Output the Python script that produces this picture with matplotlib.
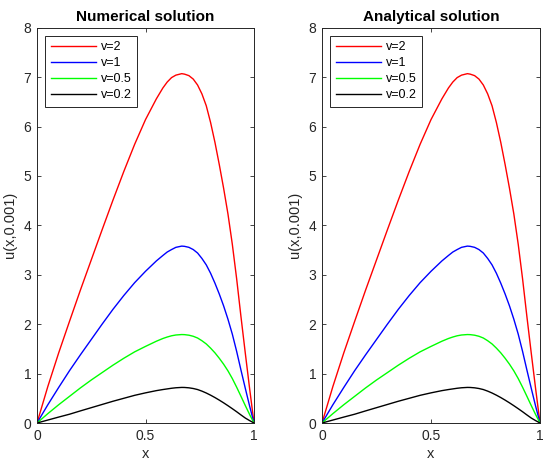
import numpy as np
import matplotlib.pyplot as plt

plt.rcParams['font.family'] = ['Liberation Sans', 'DejaVu Sans']

# valores, u(x, 0.001) para cada v
x = [0, 0.05, 0.1, 0.15, 0.2, 0.25, 0.3, 0.35, 0.4, 0.45, 0.5,
     0.55, 0.58, 0.6, 0.62, 0.64, 0.667,
     0.68, 0.7, 0.72, 0.74, 0.76, 0.78, 0.8, 0.82, 0.84, 0.86, 0.88,
     0.9, 0.92, 0.94, 0.96, 0.98, 1.0]

u_v2 = [0, 0.74, 1.42, 2.06, 2.69, 3.30, 3.91, 4.51, 5.09, 5.64, 6.14,
        6.56, 6.78, 6.9, 6.99, 7.04, 7.07,
        7.06, 7.03, 6.96, 6.84, 6.66, 6.42, 6.08, 5.68, 5.23, 4.75, 4.23,
        3.62, 2.92, 2.15, 1.41, 0.69, 0]
u_v1 = [0, 0.37, 0.72, 1.06, 1.38, 1.69, 2.0, 2.3, 2.58, 2.84, 3.07,
        3.28, 3.39, 3.46, 3.51, 3.555, 3.58,
        3.575, 3.555, 3.51, 3.44, 3.33, 3.20, 3.03, 2.83, 2.61, 2.37, 2.10,
        1.80, 1.45, 1.07, 0.70, 0.34, 0]
u_v05 = [0, 0.19, 0.37, 0.54, 0.71, 0.87, 1.02, 1.17, 1.31, 1.44, 1.55,
         1.655, 1.71, 1.74, 1.765, 1.781, 1.79,
         1.788, 1.777, 1.755, 1.72, 1.665, 1.60, 1.515, 1.42, 1.31, 1.19, 1.055,
         0.90, 0.725, 0.54, 0.352, 0.17, 0]
u_v02 = [0, 0.06, 0.12, 0.178, 0.245, 0.31, 0.375, 0.44, 0.50, 0.56, 0.61,
         0.655, 0.677, 0.69, 0.703, 0.713, 0.72,
         0.719, 0.712, 0.698, 0.677, 0.645, 0.607, 0.563, 0.515, 0.463, 0.408, 0.35,
         0.29, 0.228, 0.163, 0.10, 0.048, 0]

series = [(u_v2, 'red', 'v=2'), (u_v1, 'blue', 'v=1'),
          (u_v05, '#00ff00', 'v=0.5'), (u_v02, 'black', 'v=0.2')]

titles = ['Numerical solution', 'Analytical solution']
xticks = [0, 0.5, 1]
xtick_labels = ['0', '0.5', '1']
yticks = [0, 1, 2, 3, 4, 5, 6, 7, 8]

W, H = 550, 469
fig = plt.figure(figsize=(W / 100, H / 100), dpi=100)

gris = '#262626'
posiciones = [(37, 254), (322, 540)]
for (x0, x1), titulo in zip(posiciones, titles):
    ax = fig.add_axes([x0 / W, (H - 423) / H, (x1 - x0) / W, (423 - 27.7) / H])
    for y, c, lab in series:
        ax.plot(x, y, color=c, linewidth=1.0, label=lab)
    ax.set_xlim(0, 1)
    ax.set_ylim(0, 8)
    ax.set_xticks(xticks)
    ax.set_xticklabels(xtick_labels)
    ax.set_yticks(yticks)
    ax.tick_params(direction='in', length=3, width=0.6, top=True, right=True,
                   labelsize=10, colors=gris, pad=4)
    for s in ax.spines.values():
        s.set_color(gris)
        s.set_linewidth(0.7)
    ax.set_title(titulo, fontsize=11, fontweight='bold', pad=5)
    ax.set_xlabel('x', fontsize=10.5, color=gris, labelpad=3)
    ax.set_ylabel('u(x,0.001)', fontsize=10.5, color=gris, labelpad=5)
    leg = ax.legend(loc='upper left', fontsize=9, handlelength=3.6, labelspacing=0.32,
                    borderaxespad=0.65, fancybox=False, framealpha=1,
                    edgecolor=gris, handletextpad=0.4, borderpad=0.45)
    leg.get_frame().set_linewidth(0.7)

fig.savefig('out.png', dpi=100)
